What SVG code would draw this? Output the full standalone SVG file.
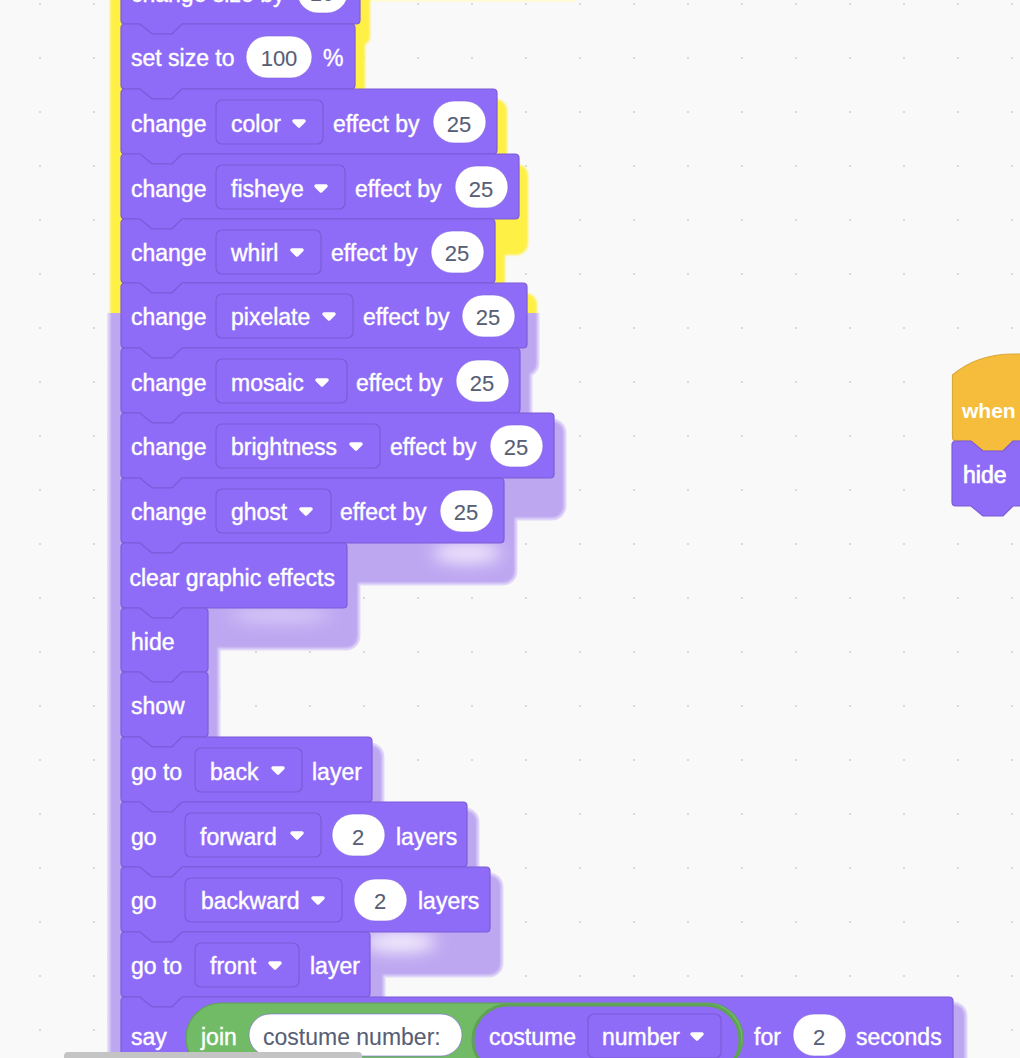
<svg xmlns="http://www.w3.org/2000/svg" width="1020" height="1058" viewBox="0 0 1020 1058">
<style>
text{font-family:"Liberation Sans",Arial,sans-serif;font-size:23px;fill:#fff;stroke:#fff;stroke-width:.4px}
text.n{fill:#575E75;stroke:#575E75;font-size:22px;text-anchor:middle;stroke-width:.1px}
text.s{fill:#575E75;stroke:#575E75;stroke-width:.1px}
.b{fill:#8F6CF7;stroke:#7C5BD8;stroke-width:1.2}
.d{fill:#8F6CF7;stroke:#7C5BD8;stroke-width:1.2}
.i{fill:#fff;stroke:#8063E0;stroke-width:.6}
.a{fill:#fff;stroke:#fff;stroke-width:3.5;stroke-linejoin:round}
</style>
<defs>
<pattern id="dots" x="39" y="3" width="54" height="54" patternUnits="userSpaceOnUse"><rect x="0" y="0" width="2" height="2" fill="#DADADA"/></pattern>
<polygon id="arr" points="2,2 12,2 7,7"/>
<filter id="soft" x="-10%" y="-10%" width="120%" height="120%"><feGaussianBlur stdDeviation="1"/></filter>
<filter id="blur" x="-50%" y="-100%" width="200%" height="300%"><feGaussianBlur stdDeviation="8"/></filter>
<clipPath id="upper"><rect x="0" y="0" width="1020" height="313"/></clipPath>
<clipPath id="lower"><rect x="0" y="313" width="1020" height="745"/></clipPath>
<g id="glow">
<rect x="110" y="-10" width="20" height="1100"/>
<rect x="110" y="-40" width="260" height="85" rx="8"/>
<rect x="110" y="20" width="255" height="90" rx="8"/>
<rect x="110" y="99" width="397" height="95" rx="12"/>
<rect x="110" y="164" width="418" height="91" rx="12"/>
<rect x="110" y="229" width="395" height="94" rx="12"/>
<rect x="110" y="293" width="427" height="82" rx="12"/>
<rect x="110" y="356" width="420" height="100" rx="12"/>
<rect x="110" y="421" width="454" height="97" rx="12"/>
<rect x="110" y="486" width="405" height="97" rx="12"/>
<rect x="110" y="551" width="248" height="97" rx="12"/>
<rect x="110" y="616" width="108" height="95" rx="12"/>
<rect x="110" y="680" width="108" height="95" rx="12"/>
<rect x="110" y="745" width="272" height="97" rx="12"/>
<rect x="110" y="810" width="367" height="97" rx="12"/>
<rect x="110" y="875" width="391" height="100" rx="12"/>
<rect x="110" y="940" width="273" height="97" rx="12"/>
<rect x="110" y="1004" width="855" height="100" rx="12"/>
</g>
</defs>
<rect id="background" width="1020" height="1058" fill="#F9F9F9"/>
<rect id="grid" width="1020" height="1058" fill="url(#dots)"/>
<rect x="370" y="0" width="206" height="2" fill="#FFFBD6"/>
<g id="glow-yellow" clip-path="url(#upper)"><use href="#glow" fill="#FFF044" filter="url(#soft)"/></g>
<g id="glow-purple" clip-path="url(#lower)">
<use href="#glow" fill="#E2D9F8" stroke="#E2D9F8" stroke-width="5"/>
<use href="#glow" fill="#BEA7F1" filter="url(#soft)"/>
<ellipse cx="467" cy="553" rx="34" ry="10" fill="#EFE7FC" filter="url(#blur)"/>
<ellipse cx="280" cy="615" rx="50" ry="7" fill="#DACDF8" filter="url(#blur)"/>
<ellipse cx="400" cy="942" rx="36" ry="10" fill="#F4EFFD" filter="url(#blur)"/>
</g>

<g id="block-change-size" transform="translate(121,-41)"><path class="b" d="M0 4q0-4 4-4h15l12 10h20l10-10H235q4 0 4 4v57q0 4-4 4H61l-10 10H31L19 65H4q-4 0-4-4z"/><text x="10" y="43">change size by</text><rect class="i" x="176" y="12" width="51" height="42" rx="21"/><text class="n" x="201" y="42">10</text></g>

<g id="block-set-size" transform="translate(121,24)"><path class="b" d="M0 4q0-4 4-4h15l12 10h20l10-10H230q4 0 4 4v57q0 4-4 4H61l-10 10H31L19 65H4q-4 0-4-4z"/><text x="10" y="42">set size to</text><rect class="i" x="125" y="12" width="66" height="42" rx="21"/><text class="n" x="158" y="42">100</text><text x="202" y="42">%</text></g>

<g id="block-color" transform="translate(121,89)"><path class="b" d="M0 4q0-4 4-4h15l12 10h20l10-10H372q4 0 4 4v57q0 4-4 4H61l-10 10H31L19 65H4q-4 0-4-4z"/><text x="10" y="43">change</text><rect class="d" x="95" y="11" width="107" height="44" rx="6"/><text x="110" y="43">color</text><use class="a" href="#arr" x="171" y="30"/><text x="212" y="43">effect by</text><rect class="i" x="312" y="12" width="53" height="42" rx="21"/><text class="n" x="338" y="43">25</text></g>

<g id="block-fisheye" transform="translate(121,154)"><path class="b" d="M0 4q0-4 4-4h15l12 10h20l10-10H394q4 0 4 4v57q0 4-4 4H61l-10 10H31L19 65H4q-4 0-4-4z"/><text x="10" y="43">change</text><rect class="d" x="95" y="11" width="129" height="44" rx="6"/><text x="110" y="43">fisheye</text><use class="a" href="#arr" x="193" y="30"/><text x="234" y="43">effect by</text><rect class="i" x="334" y="12" width="53" height="42" rx="21"/><text class="n" x="360" y="43">25</text></g>

<g id="block-whirl" transform="translate(121,219)"><path class="b" d="M0 4q0-4 4-4h15l12 10h20l10-10H370q4 0 4 4v56q0 4-4 4H61l-10 10H31L19 64H4q-4 0-4-4z"/><text x="10" y="42">change</text><rect class="d" x="95" y="11" width="105" height="44" rx="6"/><text x="110" y="42">whirl</text><use class="a" href="#arr" x="169" y="29"/><text x="210" y="42">effect by</text><rect class="i" x="310" y="12" width="53" height="42" rx="21"/><text class="n" x="336" y="42">25</text></g>

<g id="block-pixelate" transform="translate(121,283)"><path class="b" d="M0 4q0-4 4-4h15l12 10h20l10-10H402q4 0 4 4v57q0 4-4 4H61l-10 10H31L19 65H4q-4 0-4-4z"/><text x="10" y="42">change</text><rect class="d" x="95" y="11" width="137" height="44" rx="6"/><text x="110" y="42">pixelate</text><use class="a" href="#arr" x="201" y="29"/><text x="242" y="42">effect by</text><rect class="i" x="341" y="12" width="53" height="42" rx="21"/><text class="n" x="367" y="42">25</text></g>

<g id="block-mosaic" transform="translate(121,348)"><path class="b" d="M0 4q0-4 4-4h15l12 10h20l10-10H395q4 0 4 4v57q0 4-4 4H61l-10 10H31L19 65H4q-4 0-4-4z"/><text x="10" y="43">change</text><rect class="d" x="95" y="11" width="131" height="44" rx="6"/><text x="110" y="43">mosaic</text><use class="a" href="#arr" x="194" y="30"/><text x="235" y="43">effect by</text><rect class="i" x="335" y="12" width="53" height="42" rx="21"/><text class="n" x="361" y="43">25</text></g>

<g id="block-brightness" transform="translate(121,413)"><path class="b" d="M0 4q0-4 4-4h15l12 10h20l10-10H429q4 0 4 4v57q0 4-4 4H61l-10 10H31L19 65H4q-4 0-4-4z"/><text x="10" y="42">change</text><rect class="d" x="95" y="11" width="164" height="44" rx="6"/><text x="110" y="42">brightness</text><use class="a" href="#arr" x="228" y="29"/><text x="269" y="42">effect by</text><rect class="i" x="369" y="12" width="53" height="42" rx="21"/><text class="n" x="395" y="42">25</text></g>

<g id="block-ghost" transform="translate(121,478)"><path class="b" d="M0 4q0-4 4-4h15l12 10h20l10-10H379q4 0 4 4v57q0 4-4 4H61l-10 10H31L19 65H4q-4 0-4-4z"/><text x="10" y="42">change</text><rect class="d" x="95" y="11" width="115" height="44" rx="6"/><text x="110" y="42">ghost</text><use class="a" href="#arr" x="178" y="29"/><text x="219" y="42">effect by</text><rect class="i" x="319" y="12" width="53" height="42" rx="21"/><text class="n" x="345" y="42">25</text></g>

<g id="block-clear" transform="translate(121,543)"><path class="b" d="M0 4q0-4 4-4h15l12 10h20l10-10H222q4 0 4 4v57q0 4-4 4H61l-10 10H31L19 65H4q-4 0-4-4z"/><text x="8.500" y="43">clear graphic effects</text></g>

<g id="block-hide" transform="translate(121,608)"><path class="b" d="M0 4q0-4 4-4h15l12 10h20l10-10H83q4 0 4 4v56q0 4-4 4H61l-10 10H31L19 64H4q-4 0-4-4z"/><text x="10" y="42">hide</text></g>

<g id="block-show" transform="translate(121,672)"><path class="b" d="M0 4q0-4 4-4h15l12 10h20l10-10H83q4 0 4 4v57q0 4-4 4H61l-10 10H31L19 65H4q-4 0-4-4z"/><text x="10" y="42">show</text></g>

<g id="block-back" transform="translate(121,737)"><path class="b" d="M0 4q0-4 4-4h15l12 10h20l10-10H247q4 0 4 4v57q0 4-4 4H61l-10 10H31L19 65H4q-4 0-4-4z"/><text x="10" y="43">go to</text><rect class="d" x="74" y="11" width="107" height="44" rx="6"/><text x="89" y="43">back</text><use class="a" href="#arr" x="150" y="29"/><text x="191" y="43">layer</text></g>

<g id="block-forward" transform="translate(121,802)"><path class="b" d="M0 4q0-4 4-4h15l12 10h20l10-10H342q4 0 4 4v57q0 4-4 4H61l-10 10H31L19 65H4q-4 0-4-4z"/><text x="10" y="43">go</text><rect class="d" x="64" y="11" width="136" height="44" rx="6"/><text x="79" y="43">forward</text><use class="a" href="#arr" x="169" y="29"/><rect class="i" x="211" y="12" width="53" height="42" rx="21"/><text class="n" x="237" y="43">2</text><text x="275" y="43">layers</text></g>

<g id="block-backward" transform="translate(121,867)"><path class="b" d="M0 4q0-4 4-4h15l12 10h20l10-10H365q4 0 4 4v57q0 4-4 4H61l-10 10H31L19 65H4q-4 0-4-4z"/><text x="10" y="42">go</text><rect class="d" x="64" y="11" width="157" height="44" rx="6"/><text x="80" y="42">backward</text><use class="a" href="#arr" x="190" y="29"/><rect class="i" x="233" y="12" width="53" height="42" rx="21"/><text class="n" x="259" y="42">2</text><text x="297" y="42">layers</text></g>

<g id="block-front" transform="translate(121,932)"><path class="b" d="M0 4q0-4 4-4h15l12 10h20l10-10H245q4 0 4 4v57q0 4-4 4H61l-10 10H31L19 65H4q-4 0-4-4z"/><text x="10" y="42">go to</text><rect class="d" x="74" y="11" width="104" height="44" rx="6"/><text x="89" y="42">front</text><use class="a" href="#arr" x="147" y="29"/><text x="189" y="42">layer</text></g>

<g id="block-say" transform="translate(121,997)"><path class="b" d="M0 4q0-4 4-4h15l12 10h20l10-10H828q4 0 4 4v100H0z"/><text x="10" y="48">say</text>
<rect x="65" y="6" width="557" height="70" rx="35" fill="#71BB66" stroke="#5FA255" stroke-width="1.2"/><text x="80" y="48">join</text>
<rect class="i" x="128" y="17" width="213" height="42" rx="21"/><text class="s" x="142" y="48">costume number:</text>
<rect x="352" y="8" width="267" height="70" rx="35" fill="#8F6CF7" stroke="#5FA255" stroke-width="3"/><text x="368" y="48">costume</text>
<rect class="d" x="467" y="17" width="133" height="44" rx="6"/><text x="481" y="48">number</text><use class="a" href="#arr" x="569" y="35"/>
<text x="633" y="48">for</text><rect class="i" x="672" y="17" width="53" height="42" rx="21"/><text class="n" x="698" y="48">2</text><text x="735" y="48">seconds</text></g>

<g id="block-when" transform="translate(952,354)"><path d="M.5 21Q25 0 62 0H80V87H61l-10 10H31L19 87H4q-3.500 0-3.500-4z" fill="#F5BD3B" stroke="#D9A83A" stroke-width="1.200"/><text x="10" y="64" style="font-weight:700;font-size:21px;stroke-width:0">when</text></g>
<g id="block-hide-2" transform="translate(952,441)"><path class="b" d="M0 4q0-4 4-4h15l12 10h20l10-10H80V65H61l-10 10H31L19 65H4q-4 0-4-4z"/><text x="11" y="42" style="stroke-width:.7px">hide</text></g>

<path id="scrollbar" d="M64 1058v-2q0-4 4-4H358q4 0 4 4v2z" fill="#C4C4C4"/>
</svg>
